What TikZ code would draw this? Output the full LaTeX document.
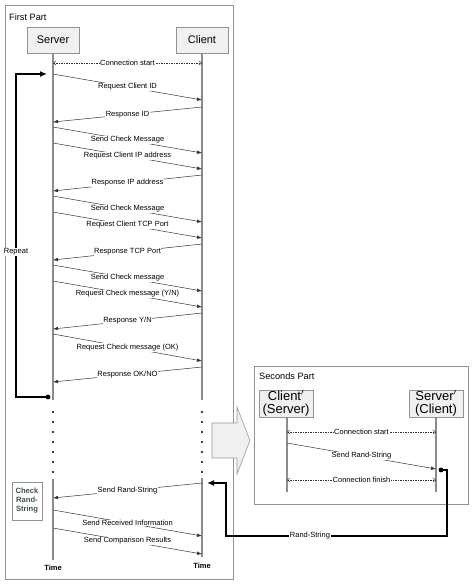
\documentclass[tikz,border=0pt]{standalone}
\usepackage{fontspec}
\setmainfont{Liberation Sans}
\usetikzlibrary{arrows.meta, positioning}

\definecolor{chkgreen}{RGB}{62,84,72}

\begin{document}
\begin{tikzpicture}[x=1pt, y=-1pt,
    frame/.style={draw=gray!85, line width=0.8pt},
    actor/.style={draw=gray!85, fill=gray!12, line width=0.8pt, inner sep=0pt,
      minimum width=52pt, minimum height=26pt, font=\fontsize{11}{12}\selectfont},
    actortwo/.style={actor, minimum width=54pt, minimum height=27pt, align=center,
      font=\fontsize{13}{13.5}\selectfont},
    life/.style={draw=gray!90, line width=1.1pt},
    msg/.style={draw=black!80, line width=0.5pt, -{Latex[length=5pt,width=3.6pt]}},
    lbl/.style={fill=white, inner sep=0.6pt, font=\fontsize{7.5}{8}\selectfont},
    conn/.style={draw=black!80, line width=0.5pt, dash pattern=on 1.5pt off 1pt,
      {Straight Barb[length=2.5pt,width=4pt]}-{Straight Barb[length=2.5pt,width=4pt]}},
    bold/.style={draw=black, line width=1.6pt},
    timelbl/.style={font=\bfseries\fontsize{7.5}{8}\selectfont},
  ]
  \useasboundingbox (0,0) rectangle (474,584);

  % First Part
  \draw[frame] (5,5) rectangle (233,579);
  \node[anchor=west, inner sep=0pt, font=\fontsize{9.2}{10}\selectfont] (partone) at (9,17) {First Part};
  \node[actor] (srv) at (53,40) {Server};
  \node[actor] (cli) at (202,40) {Client};

  % Lifelines
  \coordinate (srvmid) at (53,400);
  \coordinate (climid) at (202,400);
  \draw[life] (srv.south) -- (srvmid);
  \draw[life] (cli.south) -- (climid);
  \foreach \y in {412,422,...,472} {
    \fill (53,\y) circle (1.1pt);
    \fill (202,\y) circle (1.1pt);
  }
  \coordinate (srvlow) at (53,479);
  \coordinate (srvend) at (53,560);
  \coordinate (clilow) at (202,478);
  \coordinate (cliend) at (202,557);
  \draw[life] (srvlow) -- (srvend);
  \draw[life] (clilow) -- (cliend);
  \node[timelbl] (tsrv) at (53,568) {Time};
  \node[timelbl] (tcli) at (202,566) {Time};

  % Connection start
  \path (srv |- 0,63) coordinate (cs1) (cli |- 0,63) coordinate (cs2);
  \draw[conn] (cs1) -- node[lbl] {Connection start} (cs2);

  % Server -> Client
  \foreach \ya/\yb/\txt in {74/100/{Request Client ID},
      127/153/{Send Check Message}, 143/169/{Request Client IP address},
      196/222/{Send Check Message}, 212/238/{Request Client TCP Port},
      265/291/{Send Check message}, 281/307/{Request Check message (Y/N)},
      334/361/{Request Check message (OK)},
      510/536/{Send Received Information}, 528/554/{Send Comparison Results}} {
    \path (srv |- 0,\ya) coordinate (from) (cli |- 0,\yb) coordinate (to);
    \draw[msg] (from) -- node[lbl] {\txt} (to);
  }

  % Client -> Server
  \foreach \ya/\yb/\txt in {107/122/{Response ID}, 175/191/{Response IP address},
      244/260/{Response TCP Port}, 313/329/{Response Y/N},
      367/382/{Response OK/NO}, 483/498/{Send Rand-String}} {
    \path (cli |- 0,\ya) coordinate (from) (srv |- 0,\yb) coordinate (to);
    \draw[msg] (from) -- node[lbl] {\txt} (to);
  }

  % Repeat loop
  \coordinate (repstart) at (48,397);
  \coordinate (repend) at (47,74);
  \fill (repstart) circle (2.4pt);
  \draw[bold, -{Latex[length=7pt,width=6pt]}] (repstart) -- (16,397)
    -- node[lbl, pos=0.45, font=\fontsize{7.5}{8}\selectfont] (replbl) {Repeat} (16,74) -- (repend);

  % Check box
  \node[draw=gray!85, line width=0.8pt, fill=white, minimum width=30pt, minimum height=38pt,
    inner sep=0pt, align=center, text=chkgreen, font=\bfseries\fontsize{7.6}{9}\selectfont]
    (chk) at (27,501) {Check\\Rand-\\String};

  % Big arrow
  \draw[draw=gray!80, fill=gray!12, line width=0.6pt] (212,423) -- (237,423) -- (237,407)
    -- (250,440.5) -- (237,474) -- (237,458) -- (212,458) -- cycle;

  % Seconds Part
  \draw[frame] (254,366) rectangle (468,504);
  \node[anchor=west, inner sep=0pt, font=\fontsize{9.2}{10}\selectfont] (parttwo) at (259,376) {Seconds Part};
  \node[actortwo] (cltwo) at (286,403.5) {Client$'$\\(Server)};
  \node[actortwo] (svtwo) at (436,403.5) {Server$'$\\(Client)};
  \coordinate (cltwoend) at (287,492);
  \coordinate (svtwoend) at (436,492);
  \draw[life] (cltwo.south -| cltwoend) -- (cltwoend);
  \draw[life] (svtwo.south) -- (svtwoend);
  \path (cltwoend |- 0,432) coordinate (c1) (svtwo |- 0,432) coordinate (c2);
  \draw[conn] (c1) -- node[lbl] {Connection start} (c2);
  \path (cltwoend |- 0,443) coordinate (r1) (svtwo |- 0,469) coordinate (r2);
  \draw[msg] (r1) -- node[lbl] {Send Rand-String} (r2);
  \path (cltwoend |- 0,480) coordinate (f1) (svtwo |- 0,480) coordinate (f2);
  \draw[conn] (f1) -- node[lbl] {Connection finish} (f2);

  % Rand-String back to client
  \coordinate (randdot) at (441,470);
  \coordinate (randend) at (207,483);
  \fill (randdot) circle (2.4pt);
  \draw[bold, -{Latex[length=7pt,width=6pt]}] (randdot) -- (447,470) -- (447,536)
    -- node[lbl, pos=0.62] (randlbl) {Rand-String} (226,536) -- (226,483) -- (randend);
\end{tikzpicture}
\end{document}
